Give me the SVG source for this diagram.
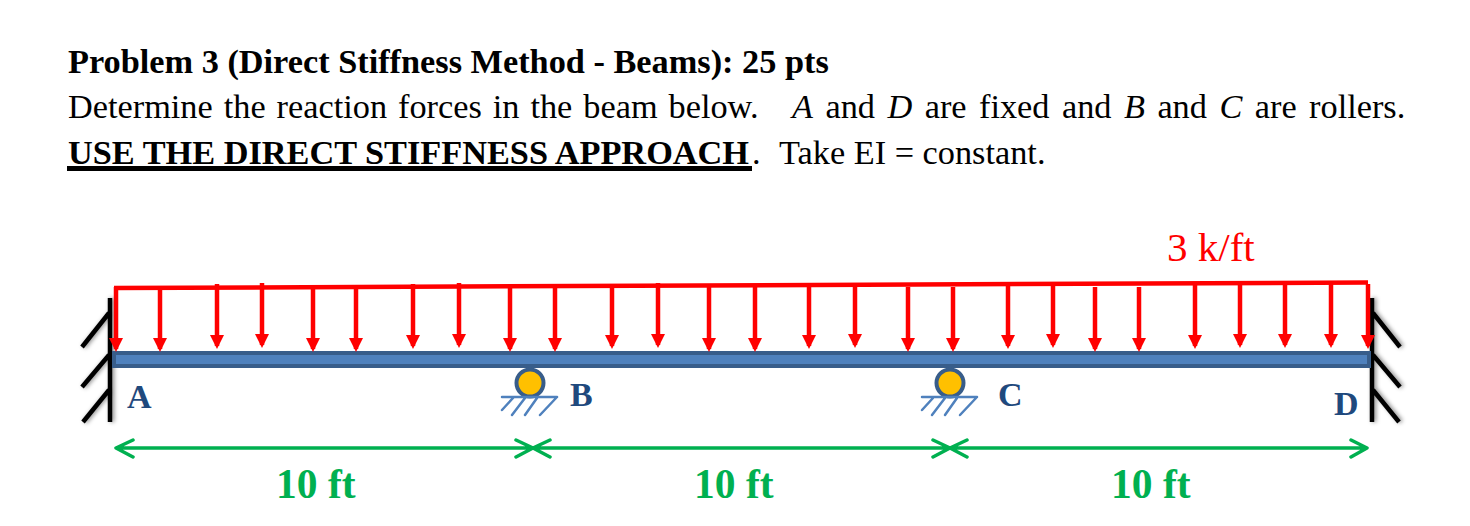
<svg xmlns="http://www.w3.org/2000/svg" width="1470" height="526" viewBox="0 0 1470 526">
<style>
text{font-family:"Liberation Serif","Times New Roman",serif}
.t{font-size:34.300px;fill:#000}
.b{font-weight:bold}
.i{font-style:italic}
.lab{font-size:34px;font-weight:bold;fill:#1f497d}
.dim{font-size:41.500px;font-weight:bold;fill:#00b050}
.wall{stroke:#000;stroke-width:4.500;fill:none}
.load{stroke:#f00;stroke-width:4.500;fill:none}
.head{fill:#f00}
.g{stroke:#00b050;stroke-width:3.500;fill:none;stroke-linecap:round;stroke-linejoin:round}
.h{stroke:#4f81bd;stroke-width:2.500;fill:none;stroke-linecap:round}
</style>
<defs>
<filter id="sh" x="-30%" y="-10%" width="160%" height="120%"><feGaussianBlur stdDeviation="2"/></filter>
<g id="ar"><path class="load" d="M0-3V-65"/><path class="head" d="M-7-14H7L0 0Z"/></g>
<g id="rollerShape">
<circle cx="0" cy="0" r="13.500" fill="#ffc000" stroke="#385d8a" stroke-width="4"/>
<path class="h" d="M-28 14H27M-17 15L-28 27M-5 15L-18 32M7 15L-5 32M27 14L10 32"/>
</g>
</defs>
<g id="title">
<text class="t b" x="68" y="73">Problem 3 (Direct Stiffness Method - Beams): 25 pts</text>
<text class="t" x="68" y="118" word-spacing="2.400">Determine the reaction forces in the beam below.</text>
<text class="t" x="792" y="118" word-spacing="3.900"><tspan class="i">A</tspan> and <tspan class="i">D</tspan> are fixed and <tspan class="i">B</tspan> and <tspan class="i">C</tspan> are rollers.</text>
<text class="t b" x="68" y="164">USE THE DIRECT STIFFNESS APPROACH</text>
<rect x="67" y="166" width="685" height="5" fill="#000"/>
<text class="t" x="752" y="164">.</text>
<text class="t" x="779" y="164">Take EI = constant.</text>
</g>
<g id="load-label"><text x="1167" y="261" font-size="41" fill="#f00">3 k/ft</text></g>
<g id="wall-left">
<path d="M112 298V422M111 313L84 347M111 355L84 387M111 390L85 422" class="wall" stroke-opacity=".45" filter="url(#sh)"/>
<path d="M110 298V422M109 313L82 347M109 355L82 387M109 390L83 422" class="wall"/>
</g>
<g id="wall-right">
<path d="M1374 298V422M1375 313L1402 347M1375 355L1402 387M1375 390L1401 422" class="wall" stroke-opacity=".45" filter="url(#sh)"/>
<path d="M1372 298V422M1373 313L1400 347M1373 355L1400 387M1373 390L1399 422" class="wall"/>
</g>
<g id="beam"><rect x="114" y="353" width="1255" height="13" fill="#4f81bd" stroke="#385d8a" stroke-width="4"/></g>
<g id="node-B"><use href="#rollerShape" x="530" y="383"/><text class="lab" x="570" y="406">B</text></g>
<g id="node-C"><use href="#rollerShape" x="950" y="383"/><text class="lab" x="998" y="406">C</text></g>
<g id="node-A"><text class="lab" x="127" y="408">A</text></g>
<g id="node-D"><text class="lab" x="1334" y="415">D</text></g>
<g id="connectors">
<path d="M114 288L1368 282.500" class="load"/>
<use href="#ar" x="116" y="352"/><use href="#ar" x="160" y="352"/><use href="#ar" x="217" y="349"/><use href="#ar" x="262" y="348"/><use href="#ar" x="313" y="352"/><use href="#ar" x="356" y="352"/><use href="#ar" x="413" y="349"/><use href="#ar" x="459" y="348"/><use href="#ar" x="510" y="352"/><use href="#ar" x="555" y="352"/><use href="#ar" x="612" y="349"/><use href="#ar" x="658" y="348"/><use href="#ar" x="709" y="352"/><use href="#ar" x="755" y="352"/><use href="#ar" x="809" y="349"/><use href="#ar" x="855" y="348"/><use href="#ar" x="908" y="352"/><use href="#ar" x="953" y="352"/><use href="#ar" x="1008" y="349"/><use href="#ar" x="1053" y="348"/><use href="#ar" x="1095" y="352"/><use href="#ar" x="1139" y="352"/><use href="#ar" x="1195" y="349"/><use href="#ar" x="1240" y="348"/><use href="#ar" x="1285" y="348"/><use href="#ar" x="1331" y="348"/><use href="#ar" x="1368" y="349"/>
<path class="g" d="M116 448H1367M133 440L116 448L133 457M516 440L533 448L516 457M550 440L533 448L550 457M933 440L950 448L933 457M967 440L950 448L967 457M1351 440L1367 448L1351 457"/>
</g>
<g id="dim-labels">
<text class="dim" x="276" y="498">10 ft</text>
<text class="dim" x="694" y="498">10 ft</text>
<text class="dim" x="1111" y="498">10 ft</text>
</g>
</svg>
